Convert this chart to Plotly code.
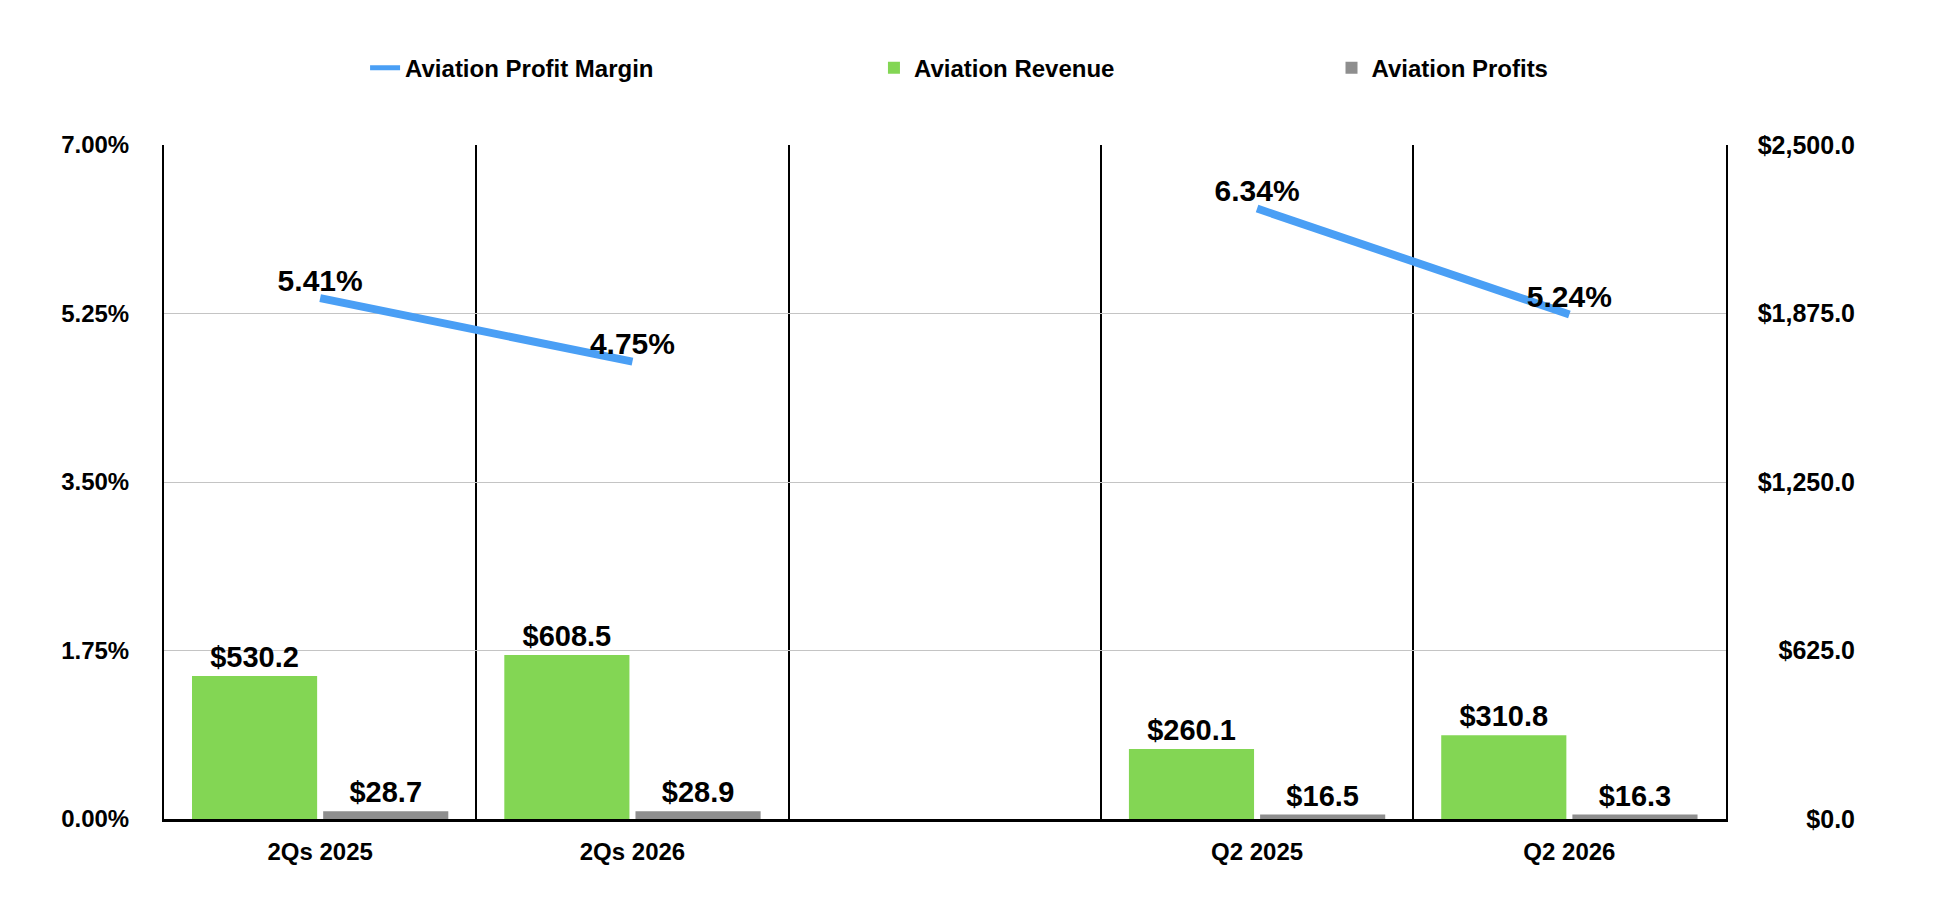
import plotly.graph_objects as go

categories = ["2Qs 2025", "2Qs 2026", " ", "Q2 2025", "Q2 2026"]
revenue = [530.2, 608.5, None, 260.1, 310.8]
profits = [28.7, 28.9, None, 16.5, 16.3]
margin = [0.0541, 0.0475, None, 0.0634, 0.0524]

left_ticks = [0, 0.0175, 0.035, 0.0525, 0.07]
right_ticks = [0, 625, 1250, 1875, 2500]
right_tick_text = [f"${v:,.1f}" for v in right_ticks]

FONT = "Liberation Sans, Arial, Helvetica, sans-serif"
BLUE = "#4A9FF5"
GREEN = "#83D654"
GRAY = "#8E8E8E"

fig = go.Figure()

fig.add_trace(go.Scatter(
    x=categories, y=margin, name="Aviation Profit Margin",
    mode="lines+text", line=dict(color=BLUE, width=8),
    texttemplate="%{y:.2%}", textposition="top center",
    textfont=dict(family=FONT, size=30, color="black", weight="bold"),
    connectgaps=False, cliponaxis=False, yaxis="y",
    legend="legend", showlegend=True,
))

fig.add_trace(go.Bar(
    x=categories, y=revenue, name="Aviation Revenue",
    marker=dict(color=GREEN, line=dict(width=0)),
    texttemplate="$%{y:.1f}", textposition="outside", constraintext="none",
    textfont=dict(family=FONT, size=29, color="black", weight="bold"),
    cliponaxis=False, yaxis="y2", legend="legend2", showlegend=True,
))

fig.add_trace(go.Bar(
    x=categories, y=profits, name="Aviation Profits",
    marker=dict(color=GRAY, line=dict(width=0)),
    texttemplate="$%{y:.1f}", textposition="outside", constraintext="none",
    textfont=dict(family=FONT, size=29, color="black", weight="bold"),
    cliponaxis=False, yaxis="y2", legend="legend3", showlegend=True,
))

legend_common = dict(orientation="h", xanchor="left", y=1.114, yanchor="middle",
                     font=dict(family=FONT, size=24, color="black", weight="bold"),
                     bgcolor="rgba(0,0,0,0)", itemsizing="constant", visible=True)

fig.update_layout(
    width=1934, height=916,
    showlegend=True,
    margin=dict(l=164, r=76, t=145, b=97),
    plot_bgcolor="white", paper_bgcolor="white",
    font=dict(family=FONT, color="black"),
    barmode="group", bargap=0.16, bargroupgap=0.046,
    xaxis=dict(
        domain=[0, 0.9218], type="category",
        categoryorder="array", categoryarray=categories, range=[-0.5, 4.5],
        tickson="boundaries", showgrid=True, gridcolor="black", gridwidth=2,
        showline=True, linecolor="black", linewidth=3, ticks="",
        tickfont=dict(family=FONT, size=24, color="black", weight="bold"),
        ticklabelstandoff=9,
    ),
    yaxis=dict(
        range=[0, 0.07], tickmode="array", tickvals=left_ticks,
        tickformat=".2%", showgrid=True, gridcolor="#C4C4C4", gridwidth=1,
        showline=True, linecolor="black", linewidth=2, mirror=True,
        ticks="", zeroline=False, ticklabelstandoff=28,
        tickfont=dict(family=FONT, size=24, color="black", weight="bold"),
    ),
    yaxis2=dict(
        overlaying="y", side="right", anchor="free", position=1,
        range=[0, 2500], tickmode="array", tickvals=right_ticks,
        ticktext=right_tick_text, showgrid=False, showline=False,
        ticks="", zeroline=False, ticklabelposition="inside",
        ticklabeloverflow="allow",
        tickfont=dict(family=FONT, size=25, color="black", weight="bold"),
    ),
    legend=dict(x=0.1187, **legend_common),
    legend2=dict(x=0.4191, **legend_common),
    legend3=dict(x=0.6892, **legend_common),
)

fig.write_html("out.html")
